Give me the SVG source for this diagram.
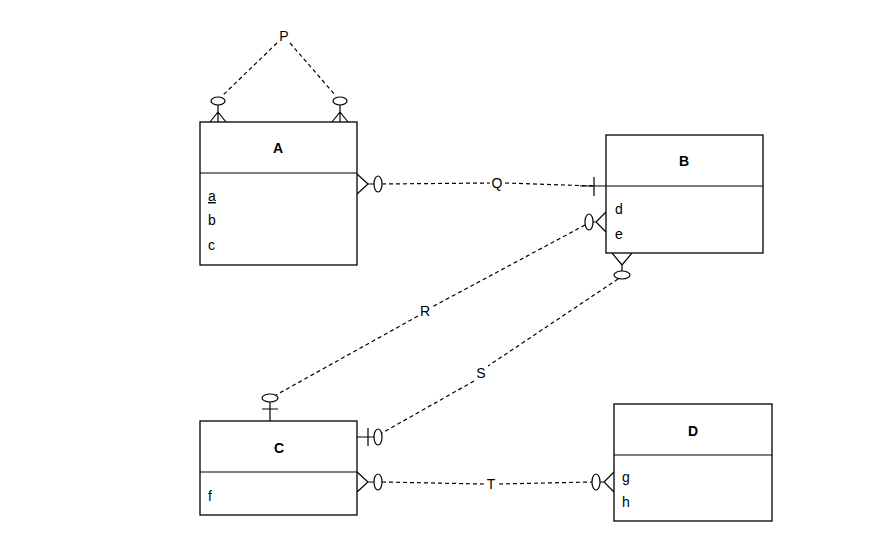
<svg xmlns="http://www.w3.org/2000/svg" width="887" height="544" viewBox="0 0 887 544">
<style>
.box{fill:#fff;stroke:#000;stroke-width:1.3}
.ln{fill:none;stroke:#000;stroke-width:1.2}
.ds{fill:none;stroke:#000;stroke-width:1.2;stroke-dasharray:4,3}
.el{fill:#fff;stroke:#000;stroke-width:1.2}
text{font-family:"Liberation Sans",Arial,sans-serif;font-size:14px;fill:#000}
.t{font-weight:bold;text-anchor:middle}
.lb{text-anchor:middle}
</style>
<rect width="887" height="544" fill="#fff"/>
<g id="connectors">
<!-- P -->
<path class="ds" d="M277,43 L222,96 M290,43 L336,96"/>
<ellipse class="el" cx="218" cy="101" rx="7" ry="4"/>
<ellipse class="el" cx="340" cy="101" rx="7" ry="4"/>
<path class="ln" d="M218,105 V122 M218,112 L210,122 M218,112 L226,122 M340,105 V122 M340,112 L332,122 M340,112 L348,122"/>
<text class="lb" x="284" y="41">P</text>
<!-- Q -->
<path class="ln" d="M357,174 L368,184 L357,194 M368,184 H374"/>
<ellipse class="el" cx="378" cy="184" rx="4" ry="8"/>
<path class="ds" d="M382,184 L490,183 M505,183 L594,186"/>
<path class="ln" d="M580,186 H606 M594,177 V196"/>
<text class="lb" x="497" y="188">Q</text>
<!-- R -->
<path class="ln" d="M606,212 L596,222 L606,232 M596,222 H593"/>
<ellipse class="el" cx="589" cy="222" rx="4" ry="8"/>
<path class="ds" d="M585,225 L432,307 M418,316 L276,395"/>
<ellipse class="el" cx="270" cy="398" rx="8" ry="4"/>
<path class="ln" d="M270,402 V421 M262,409 H278"/>
<text class="lb" x="425" y="316">R</text>
<!-- S -->
<path class="ln" d="M612,253 L622,265 L632,253 M622,265 V271"/>
<ellipse class="el" cx="622" cy="275" rx="8" ry="4"/>
<path class="ds" d="M618,279 L488,366 M474,381 L382,433"/>
<ellipse class="el" cx="378" cy="437" rx="4" ry="8"/>
<path class="ln" d="M357,437 H374 M368,428 V446"/>
<text class="lb" x="481" y="378">S</text>
<!-- T -->
<path class="ln" d="M357,472 L368,482 L357,492 M368,482 H374"/>
<ellipse class="el" cx="378" cy="482" rx="4" ry="8"/>
<path class="ds" d="M382,482 L484,484 M499,484 L592,482"/>
<ellipse class="el" cx="596" cy="482" rx="4" ry="8"/>
<path class="ln" d="M614,472 L604,482 L614,492 M604,482 H600"/>
<text class="lb" x="491" y="489">T</text>
</g>
<g id="A">
<rect class="box" x="200" y="122" width="157" height="143"/>
<line class="ln" x1="200" y1="173" x2="357" y2="173"/>
<text class="t" x="278" y="153">A</text>
<text x="208" y="201" text-decoration="underline">a</text>
<text x="208" y="225">b</text>
<text x="208" y="250">c</text>
</g>
<g id="B">
<rect class="box" x="606" y="135" width="157" height="118"/>
<line class="ln" x1="606" y1="186" x2="763" y2="186"/>
<text class="t" x="684" y="166">B</text>
<text x="615" y="214">d</text>
<text x="615" y="239">e</text>
</g>
<g id="C">
<rect class="box" x="200" y="421" width="157" height="94"/>
<line class="ln" x1="200" y1="472" x2="357" y2="472"/>
<text class="t" x="279" y="453">C</text>
<text x="208" y="501">f</text>
</g>
<g id="D">
<rect class="box" x="614" y="404" width="158" height="117"/>
<line class="ln" x1="614" y1="455" x2="772" y2="455"/>
<text class="t" x="693" y="436">D</text>
<text x="622" y="482" text-decoration="underline">g</text>
<text x="622" y="507">h</text>
</g>
</svg>
